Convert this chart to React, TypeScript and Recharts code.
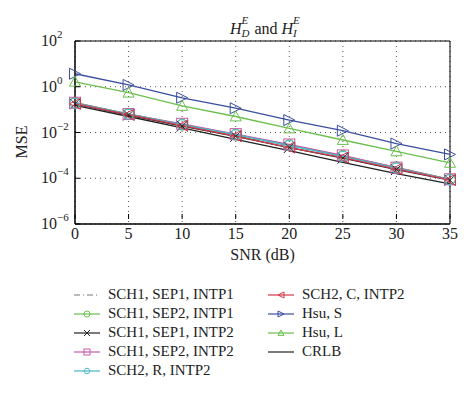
import React from 'react';
import { LineChart, Line, XAxis, YAxis, CartesianGrid, ReferenceArea } from 'recharts';

const snr = [0, 5, 10, 15, 20, 25, 30, 35];
const sch1Sep1Intp1 = [0.19, 0.062, 0.021, 0.0075, 0.0027, 0.00092, 0.00029, 0.000088];
const sch1Sep2Intp1 = [0.2, 0.065, 0.022, 0.008, 0.0028, 0.00095, 0.0003, 0.00009];
const sch1Sep1Intp2 = [0.18, 0.058, 0.019, 0.0068, 0.0022, 0.00075, 0.00024, 0.000082];
const sch1Sep2Intp2 = [0.2, 0.064, 0.024, 0.0085, 0.003, 0.001, 0.00029, 0.00009];
const sch2RIntp2 = [0.19, 0.063, 0.022, 0.008, 0.0027, 0.0009, 0.00028, 0.000087];
const sch2CIntp2 = [0.18, 0.06, 0.02, 0.007, 0.0022, 0.0008, 0.00025, 0.000085];
const hsuS = [3.7, 1.2, 0.33, 0.115, 0.035, 0.012, 0.0033, 0.0011];
const hsuL = [1.65, 0.55, 0.145, 0.05, 0.015, 0.0047, 0.0015, 0.00047];
const crlb = [0.155, 0.05, 0.016, 0.005, 0.0016, 0.0005, 0.00016, 0.000057];

const yTicks = [1e-6, 1e-4, 1e-2, 1, 100];
const yTickExp = ['\u22126', '\u22124', '\u22122', '0', '2'];
const xTicks = [0, 5, 10, 15, 20, 25, 30, 35];

const FONT = 'Liberation Serif, Times New Roman, DejaVu Serif, serif';

type Marker = 'none' | 'circle' | 'x' | 'square' | 'hex' | 'left' | 'right' | 'up';

const series: { key: string; name: string; values: number[]; color: string; marker: Marker; dash?: string }[] = [
  { key: 's1', name: 'SCH1, SEP1, INTP1', values: sch1Sep1Intp1, color: '#777777', marker: 'none', dash: '6 3 1 3' },
  { key: 's2', name: 'SCH1, SEP2, INTP1', values: sch1Sep2Intp1, color: '#6cbf4f', marker: 'circle' },
  { key: 's3', name: 'SCH1, SEP1, INTP2', values: sch1Sep1Intp2, color: '#222222', marker: 'x' },
  { key: 's4', name: 'SCH1, SEP2, INTP2', values: sch1Sep2Intp2, color: '#c55aa8', marker: 'square' },
  { key: 's5', name: 'SCH2, R, INTP2', values: sch2RIntp2, color: '#48b8c8', marker: 'hex' },
  { key: 's6', name: 'SCH2, C, INTP2', values: sch2CIntp2, color: '#d0394a', marker: 'left' },
  { key: 's7', name: 'Hsu, S', values: hsuS, color: '#3a4f9e', marker: 'right' },
  { key: 's8', name: 'Hsu, L', values: hsuL, color: '#6cbf4f', marker: 'up' },
  { key: 's9', name: 'CRLB', values: crlb, color: '#222222', marker: 'none' },
];

const data = snr.map((x, i) => {
  const row: any = { snr: x };
  series.forEach((s) => (row[s.key] = s.values[i]));
  return row;
});

function markerShape(m: Marker, cx: number, cy: number, color: string, r: number) {
  const common = { fill: 'none', stroke: color, strokeWidth: 1 };
  switch (m) {
    case 'circle':
      return <circle cx={cx} cy={cy} r={r} {...common} />;
    case 'x':
      return (
        <path d={`M${cx - r} ${cy - r}L${cx + r} ${cy + r}M${cx - r} ${cy + r}L${cx + r} ${cy - r}`} {...common} />
      );
    case 'square':
      return <rect x={cx - r} y={cy - r} width={2 * r} height={2 * r} {...common} />;
    case 'hex': {
      const pts = [0, 1, 2, 3, 4, 5]
        .map((k) => {
          const a = (Math.PI / 3) * k;
          return `${cx + r * Math.cos(a)},${cy + r * Math.sin(a)}`;
        })
        .join(' ');
      return <polygon points={pts} {...common} />;
    }
    case 'left':
      return <polygon points={`${cx - r},${cy} ${cx + r},${cy - r} ${cx + r},${cy + r}`} {...common} />;
    case 'right':
      return <polygon points={`${cx + r},${cy} ${cx - r},${cy - r} ${cx - r},${cy + r}`} {...common} />;
    case 'up':
      return <polygon points={`${cx},${cy - r} ${cx - r},${cy + r * 0.8} ${cx + r},${cy + r * 0.8}`} {...common} />;
    default:
      return null;
  }
}

const makeDot = (m: Marker, color: string) => (props: any) => {
  const { cx, cy, index } = props;
  if (m === 'none' || cx == null || cy == null) return <g key={index} />;
  return <g key={index}>{markerShape(m, cx, cy, color, 5.5)}</g>;
};

const YTick = (props: any) => {
  const { x, y, payload } = props;
  const idx = yTicks.indexOf(payload.value);
  const exp = yTickExp[idx] ?? '';
  return (
    <g>
      <line x1={x + 5} x2={x + 10} y1={y} y2={y} stroke="#000" />
      <text x={x - 13} y={y + 5} textAnchor="end" fontFamily={FONT} fontSize={16} fill="#222">
        10
      </text>
      <text x={x - 13} y={y - 3} textAnchor="start" fontFamily={FONT} fontSize={11} fill="#222">
        {exp}
      </text>
    </g>
  );
};

const XTick = (props: any) => {
  const { x, y, payload } = props;
  return (
    <g>
      <line x1={x} x2={x} y1={y - 5} y2={y - 10} stroke="#000" />
      <text x={x} y={y + 15} textAnchor="middle" fontFamily={FONT} fontSize={16} fill="#222">
        {payload.value}
      </text>
    </g>
  );
};

const Script = ({ sub, sup }: { sub: string; sup: string }) => (
  <span style={{ position: 'relative', display: 'inline-block', width: 9, height: 10, fontSize: 11, fontStyle: 'italic' }}>
    <span style={{ position: 'absolute', left: 0, top: -9, lineHeight: '11px' }}>{sup}</span>
    <span style={{ position: 'absolute', left: 0, top: 4, lineHeight: '11px' }}>{sub}</span>
  </span>
);

const LegendItem = ({ s }: { s: (typeof series)[number] }) => (
  <div style={{ display: 'flex', alignItems: 'center', height: 19 }}>
    <svg width={30} height={14} style={{ marginRight: 6 }}>
      <line x1={2} x2={28} y1={7} y2={7} stroke={s.color} strokeWidth={1.2} strokeDasharray={s.dash} />
      {markerShape(s.marker, 15, 7, s.color, 3)}
    </svg>
    <span>{s.name}</span>
  </div>
);

export default function App() {
  const leftCol = series.slice(0, 5);
  const rightCol = series.slice(5);
  return (
    <div style={{ position: 'absolute', left: 0, top: 0, width: 474, height: 398, background: '#fff', fontFamily: FONT, color: '#222' }}>
      <LineChart width={474} height={398} data={data} margin={{ top: 41, right: 24, left: 20, bottom: 144 }}>
        <CartesianGrid stroke="#555" strokeDasharray="1 4" />
        <XAxis
          dataKey="snr"
          type="number"
          domain={[0, 35]}
          ticks={xTicks}
          tick={<XTick />}
          tickLine={false}
          tickSize={0}
          tickMargin={0}
          height={30}
          axisLine={{ stroke: '#000' }}
        />
        <YAxis
          scale="log"
          type="number"
          domain={[1e-6, 100]}
          ticks={yTicks}
          allowDataOverflow
          tick={<YTick />}
          tickLine={false}
          tickSize={0}
          tickMargin={5}
          width={55}
          axisLine={{ stroke: '#000' }}
        />
        <ReferenceArea x1={0} x2={35} y1={1e-6} y2={100} fill="none" stroke="#000" strokeWidth={1} ifOverflow="visible" />
        {series.map((s) => (
          <Line
            key={s.key}
            dataKey={s.key}
            name={s.name}
            stroke={s.color}
            strokeWidth={1.3}
            strokeDasharray={s.dash}
            type="linear"
            dot={makeDot(s.marker, s.color)}
            activeDot={false}
            isAnimationActive={false}
          />
        ))}
      </LineChart>
      <div style={{ position: 'absolute', left: 0, width: 474, top: 20, textAlign: 'center', fontSize: 16, lineHeight: '18px' }}>
        <span style={{ marginLeft: 58 }}>
          <i>H</i>
          <Script sup="E" sub="D" /> and <i>H</i>
          <Script sup="E" sub="I" />
        </span>
      </div>
      <div
        style={{ position: 'absolute', left: 4, top: 133, transform: 'rotate(-90deg)', fontSize: 16, width: 36, textAlign: 'center', lineHeight: '18px' }}
      >
        MSE
      </div>
      <div style={{ position: 'absolute', left: 75, width: 375, top: 246, textAlign: 'center', fontSize: 16 }}>SNR (dB)</div>
      <div style={{ position: 'absolute', left: 72, top: 285, fontSize: 15 }}>
        {leftCol.map((s) => (
          <LegendItem key={s.key} s={s} />
        ))}
      </div>
      <div style={{ position: 'absolute', left: 266, top: 285, fontSize: 15 }}>
        {rightCol.map((s) => (
          <LegendItem key={s.key} s={s} />
        ))}
      </div>
    </div>
  );
}
